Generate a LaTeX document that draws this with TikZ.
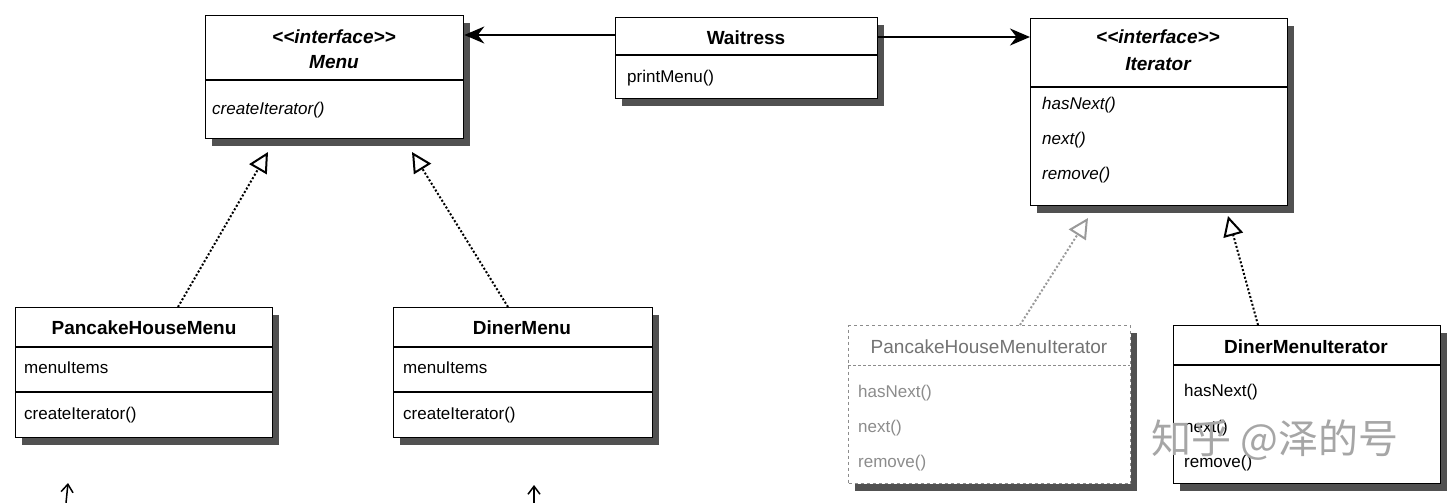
\documentclass[tikz,border=0pt]{standalone}
\usepackage{fontspec}
\setmainfont{Liberation Sans}[Ligatures=NoCommon]
\newfontfamily\cjk{Noto Sans CJK SC}
\usetikzlibrary{shadows,arrows.meta}
\begin{document}
\begin{tikzpicture}[x=1pt,y=-1pt,
  box/.style={draw=black,line width=1.3pt,fill=white,
    drop shadow={shadow xshift=6pt,shadow yshift=-7pt,fill=black!85,opacity=0.8}},
  gbox/.style={draw=black!45,dashed,line width=1pt,fill=white,
    drop shadow={shadow xshift=6pt,shadow yshift=-7pt,fill=black!85,opacity=0.8}},
  sep/.style={line width=1.3pt},
  gsep/.style={line width=1pt,draw=black!45,densely dashed},
  t/.style={font=\fontsize{17}{19}\selectfont,anchor=west,inner sep=0},
  tb/.style={font=\fontsize{19}{21}\selectfont\bfseries,inner sep=0},
  ti/.style={font=\fontsize{17}{19}\selectfont\itshape,anchor=west,inner sep=0},
  tbi/.style={font=\fontsize{19}{21}\selectfont\bfseries\itshape,inner sep=0},
  assoc/.style={line width=2.2pt,-{Stealth[length=20pt,width=17pt]}},
  real/.style={line width=2pt,dotted,-{Triangle[open,length=20pt,width=20pt,line width=2pt]}},
]
\useasboundingbox (0,0) rectangle (1448,503);
% boxes
\node[box,minimum width=258,minimum height=123,anchor=north west] (menu) at (205,15) {};
\draw[sep] (205,80) -- (463,80);
\node[tbi] (menut1) at (334,37) {{<}{<}interface{>}{>}};
\node[tbi] (menut2) at (334,62) {Menu};
\node[ti] (menum) at (212,110) {createIterator()};

\node[box,minimum width=262,minimum height=81,anchor=north west] (wait) at (615,17) {};
\draw[sep] (615,55) -- (877,55);
\node[tb] (waitt) at (746,38) {Waitress};
\node[t] (waitm) at (627,78) {printMenu()};

\node[box,minimum width=257,minimum height=187,anchor=north west] (iter) at (1030,18) {};
\draw[sep] (1030,87) -- (1287,87);
\node[tbi] (itert1) at (1158,37) {{<}{<}interface{>}{>}};
\node[tbi] (itert2) at (1158,64) {Iterator};
\node[ti] (iterm1) at (1042,105) {hasNext()};
\node[ti] (iterm2) at (1042,140) {next()};
\node[ti] (iterm3) at (1042,175) {remove()};

\node[box,minimum width=257,minimum height=130,anchor=north west] (phm) at (15,307) {};
\draw[sep] (15,347) -- (272,347);
\draw[sep] (15,392) -- (272,392);
\node[tb] (phmt) at (144,328) {PancakeHouseMenu};
\node[t] (phmf) at (24,368) {menuItems};
\node[t] (phmm) at (24,415) {createIterator()};

\node[box,minimum width=259,minimum height=130,anchor=north west] (din) at (393,307) {};
\draw[sep] (393,347) -- (652,347);
\draw[sep] (393,392) -- (652,392);
\node[tb] (dint) at (522,328) {DinerMenu};
\node[t] (dinf) at (403,368) {menuItems};
\node[t] (dinm) at (403,415) {createIterator()};

\node[gbox,minimum width=282,minimum height=158,anchor=north west] (phmi) at (848,325) {};
\draw[gsep] (848,365) -- (1130,365);
\node[tb,font=\fontsize{19}{21}\selectfont,text=black!55] (phmit) at (989,347) {PancakeHouseMenuIterator};
\node[t,text=black!45] (phmi1) at (858,393) {hasNext()};
\node[t,text=black!45] (phmi2) at (858,428) {next()};
\node[t,text=black!45] (phmi3) at (858,463) {remove()};

\node[box,minimum width=267,minimum height=158,anchor=north west] (dmi) at (1173,325) {};
\draw[sep] (1173,365) -- (1440,365);
\node[tb] (dmit) at (1306,347) {DinerMenuIterator};
\node[t] (dmi1) at (1184,392) {hasNext()};
\node[t] (dmi2) at (1184,428) {next()};
\node[t] (dmi3) at (1184,463) {remove()};

% associations
\draw[assoc] (wait.west |- 0,35) -- (menu.east |- 0,35);
\draw[assoc] (wait.east |- 0,37) -- (iter.west |- 0,37);

% realizations
\coordinate (m1) at (268,152);
\coordinate (m2) at (412,152);
\coordinate (i1) at (1088,218);
\coordinate (i2) at (1228,216);
\draw[real] (phm.north -| 178,0) -- (m1);
\draw[real] (din.north -| 508,0) -- (m2);
\draw[real,draw=black!40] (phmi.north -| 1020,0) -- (i1);
\draw[real] (dmi.north -| 1258,0) -- (i2);

% partial arrows at bottom
\coordinate (b1s) at (66,503);
\coordinate (b1e) at (68,483);
\coordinate (b2s) at (534,503);
\coordinate (b2e) at (534,485);
\draw[line width=1.5pt,-{Straight Barb[length=8pt,width=12pt]}] (b1s) -- (b1e);
\draw[line width=1.5pt,-{Straight Barb[length=8pt,width=12pt]}] (b2s) -- (b2e);

% watermark
\node[font=\cjk\fontsize{40}{44}\selectfont,text=black!35,inner sep=0] (wm) at (1275,440) {知乎 @泽的号};
\end{tikzpicture}
\end{document}
